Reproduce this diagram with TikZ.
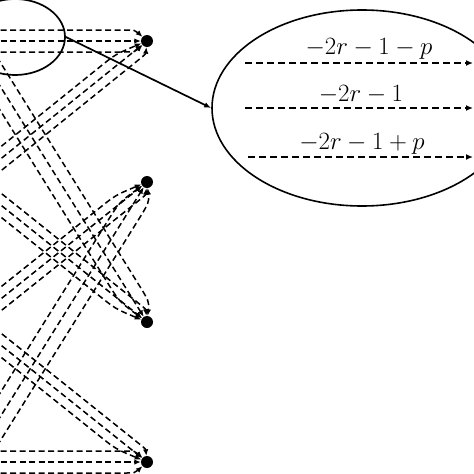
\documentclass[tikz,border=0pt]{standalone}
\usetikzlibrary{calc,arrows.meta,shapes.geometric}
\newcommand\tripedge[4]{%
  \foreach \k in {-1,0,1}{%
    \draw[link] ($(#1)+\k*#3$) -- ($(#2)!#4!(#1)+\k*#3$)
      .. controls ($(#2)!0.5*#4!(#1)+\k*#3$) .. (#2);
  }}
\begin{document}
\begin{tikzpicture}[x=1pt,y=-1pt,
  dot/.style={circle,fill=black,inner sep=0pt,minimum size=12pt},
  link/.style={line width=1.5pt,dash pattern=on 6pt off 3.5pt,-{Latex[length=6.5pt,width=5.5pt]}},
  inlink/.style={line width=1.7pt,dash pattern=on 7pt off 4pt,-{Latex[length=7pt,width=6pt]}},
  lab/.style={font=\fontsize{23}{27}\selectfont,inner sep=0pt}]
\useasboundingbox (0,0) rectangle (474,474);
\clip (0,0) rectangle (474,474);
% left column (outside the visible area)
\coordinate (L1) at (-28,41);
\coordinate (L2) at (-28,182);
\coordinate (L3) at (-28,322);
\coordinate (L4) at (-28,462);
% right column
\node[dot] (R1) at (147,41) {};
\node[dot] (R2) at (147,182) {};
\node[dot] (R3) at (147,322) {};
\node[dot] (R4) at (147,462) {};
% triple dashed connectors
\tripedge{L1}{R1}{(0,11)}{24pt}
\tripedge{L2}{R1}{(15,0)}{42pt}
\tripedge{L1}{R3}{(15,0)}{48pt}
\tripedge{L2}{R3}{(15,0)}{42pt}
\tripedge{L3}{R2}{(15,0)}{42pt}
\tripedge{L4}{R2}{(15,0)}{48pt}
\tripedge{L3}{R4}{(15,0)}{42pt}
\tripedge{L4}{R4}{(0,11)}{24pt}
% magnifier
\node[draw,ellipse,line width=1.7pt,minimum width=100pt,minimum height=76pt,inner sep=0pt] (zoom) at (15,37) {};
\node[draw,ellipse,line width=1.6pt,minimum width=300pt,minimum height=196pt,inner sep=0pt] (big) at (362,108) {};
\draw[line width=1.7pt,-{Latex[length=7pt,width=5.5pt]}] (zoom.east) -- (big.west);
% zoomed connectors
\coordinate (a1) at (245,63);  \coordinate (b1) at (473,63);
\coordinate (a2) at (245,108); \coordinate (b2) at (473,108);
\coordinate (a3) at (248,157); \coordinate (b3) at (473,157);
\draw[inlink] (a1) -- (b1);
\draw[inlink] (a2) -- (b2);
\draw[inlink] (a3) -- (b3);
\node[lab] (t1) at (369,49) {$-2r-1-p$};
\node[lab] (t2) at (361,95) {$-2r-1$};
\node[lab] (t3) at (362,144) {$-2r-1+p$};
\end{tikzpicture}
\end{document}
